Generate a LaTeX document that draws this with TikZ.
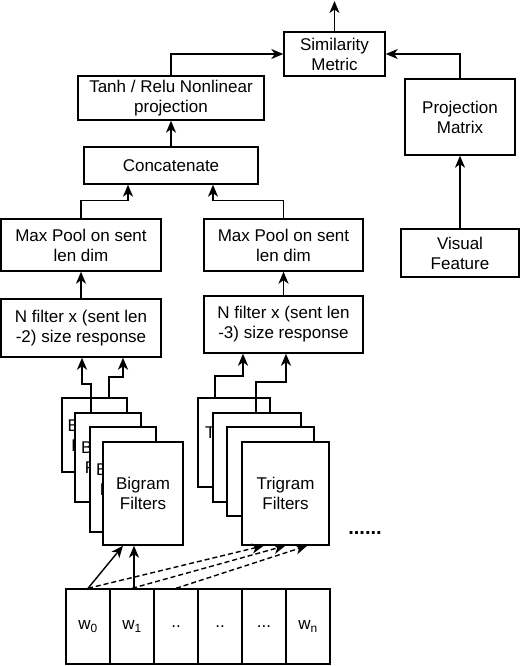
\documentclass[tikz,border=0pt]{standalone}
\usepackage{fontspec}
\setmainfont{Liberation Sans}
\usetikzlibrary{arrows.meta}
\tikzset{>={Stealth[length=12pt,width=10pt,inset=3.5pt]}}
\tikzset{
  block/.style={draw, fill=white, line width=1.4pt, align=center, inner sep=0pt},
  arr/.style={->, line width=1.4pt},
  thickarr/.style={->, line width=2.2pt},
  dasharr/.style={->, line width=1.4pt, dash pattern=on 5pt off 3pt},
}

\begin{document}
\begin{tikzpicture}[x=1pt, y=-1pt, font=\fontsize{17}{20}\selectfont]
  \useasboundingbox (0,0) rectangle (526,666);
  % upper part
  \coordinate (out) at (334.5,1);
  \node[block, minimum width=101pt, minimum height=44pt] (sim) at (334.5,54) {Similarity\\Metric};
  \node[block, minimum width=186pt, minimum height=44pt] (tanh) at (171,98) {Tanh / Relu Nonlinear\\projection};
  \node[block, minimum width=110pt, minimum height=76pt] (projm) at (460,117) {Projection\\Matrix};
  \node[block, minimum width=174pt, minimum height=37pt] (concat) at (171,165.5) {Concatenate};
  \node[block, minimum width=118pt, minimum height=48pt] (visual) at (460,253) {Visual\\Feature};
  \node[block, minimum width=160pt, minimum height=52pt] (poolL) at (81,245) {Max Pool on sent\\len dim};
  \node[block, minimum width=159pt, minimum height=52pt] (poolR) at (283.5,245) {Max Pool on sent\\len dim};
  \node[block, minimum width=160pt, minimum height=58pt] (nfL) at (81,328) {N filter x (sent len\\-2) size response};
  \node[block, minimum width=159pt, minimum height=57pt] (nfR) at (283.5,324.5) {N filter x (sent len\\-3) size response};
  % filter stacks
  \node[block, minimum width=65pt, minimum height=74pt] (b1) at (94.5,435) {Bigram\\Filters};
  \node[block, minimum width=66pt, minimum height=89pt] (b2) at (108,457.5) {Bigram\\Filters};
  \node[block, minimum width=66pt, minimum height=105pt] (b3) at (123,479.5) {Bigram\\Filters};
  \node[block, minimum width=80pt, minimum height=103pt] (b4) at (143,493.5) {Bigram\\Filters};
  \node[block, minimum width=72pt, minimum height=89pt] (t1) at (234,442.5) {Trigram\\Filters};
  \node[block, minimum width=88pt, minimum height=89pt] (t2) at (257,457.5) {Trigram\\Filters};
  \node[block, minimum width=87pt, minimum height=89pt] (t3) at (270.5,471.5) {Trigram\\Filters};
  \node[block, minimum width=87pt, minimum height=103pt] (t4) at (285.5,493.5) {Trigram\\Filters};
  \node[font=\fontsize{20}{20}\selectfont\bfseries] (more) at (365,533) {......};
  % words
  \node[block, minimum width=44pt, minimum height=75pt] (w0) at (88,626.5) {w\textsubscript{0}};
  \node[block, minimum width=44pt, minimum height=75pt] (w1) at (132,626.5) {w\textsubscript{1}};
  \node[block, minimum width=44pt, minimum height=75pt] (w2) at (176,626.5) {..};
  \node[block, minimum width=44pt, minimum height=75pt] (w3) at (220,626.5) {..};
  \node[block, minimum width=44pt, minimum height=75pt] (w4) at (264,626.5) {...};
  \node[block, minimum width=44pt, minimum height=75pt] (wn) at (308,626.5) {w\textsubscript{n}};
  % connectors
  \draw[arr] (sim.north) -- (out);
  \draw[arr] (tanh.north) |- (sim.west);
  \draw[arr] (projm.north) |- (sim.east);
  \draw[arr] (concat.north) -- (tanh.south);
  \draw[arr] (visual.north) -- (projm.south);
  \draw[arr] (poolL.north) -- ++(0,-18) -| ([xshift=-43pt]concat.south);
  \draw[arr] (poolR.north) -- ++(0,-18) -| ([xshift=42pt]concat.south);
  \draw[arr] (nfL.north) -- (poolL.south);
  \draw[arr] (nfR.north) -- (poolR.south);
  \draw[thickarr] ([xshift=17pt]b2.north west) -- ++(0,-28) -| ([xshift=1pt]nfL.south);
  \draw[thickarr] ([xshift=48pt]b1.north west) -- ++(0,-20) -| ([xshift=42pt]nfL.south);
  \draw[thickarr] ([xshift=18pt]t1.north west) -- ++(0,-21) -| ([xshift=-40.5pt]nfR.south);
  \draw[thickarr] ([xshift=44pt]t2.north west) -- ++(0,-30) -| ([xshift=2.5pt]nfR.south);
  \draw[arr] (w0.north) -- ([xshift=-20pt]b4.south);
  \draw[arr] ([xshift=2pt]w1.north) -- ([xshift=2pt]w1.north |- b4.south);
  \draw[dasharr] (w0.north) -- ([xshift=-21.75pt]t4.south);
  \draw[dasharr] (w1.north) -- (t4.south);
  \draw[dasharr] (w2.north) -- ([xshift=21.75pt]t4.south);
\end{tikzpicture}
\end{document}
